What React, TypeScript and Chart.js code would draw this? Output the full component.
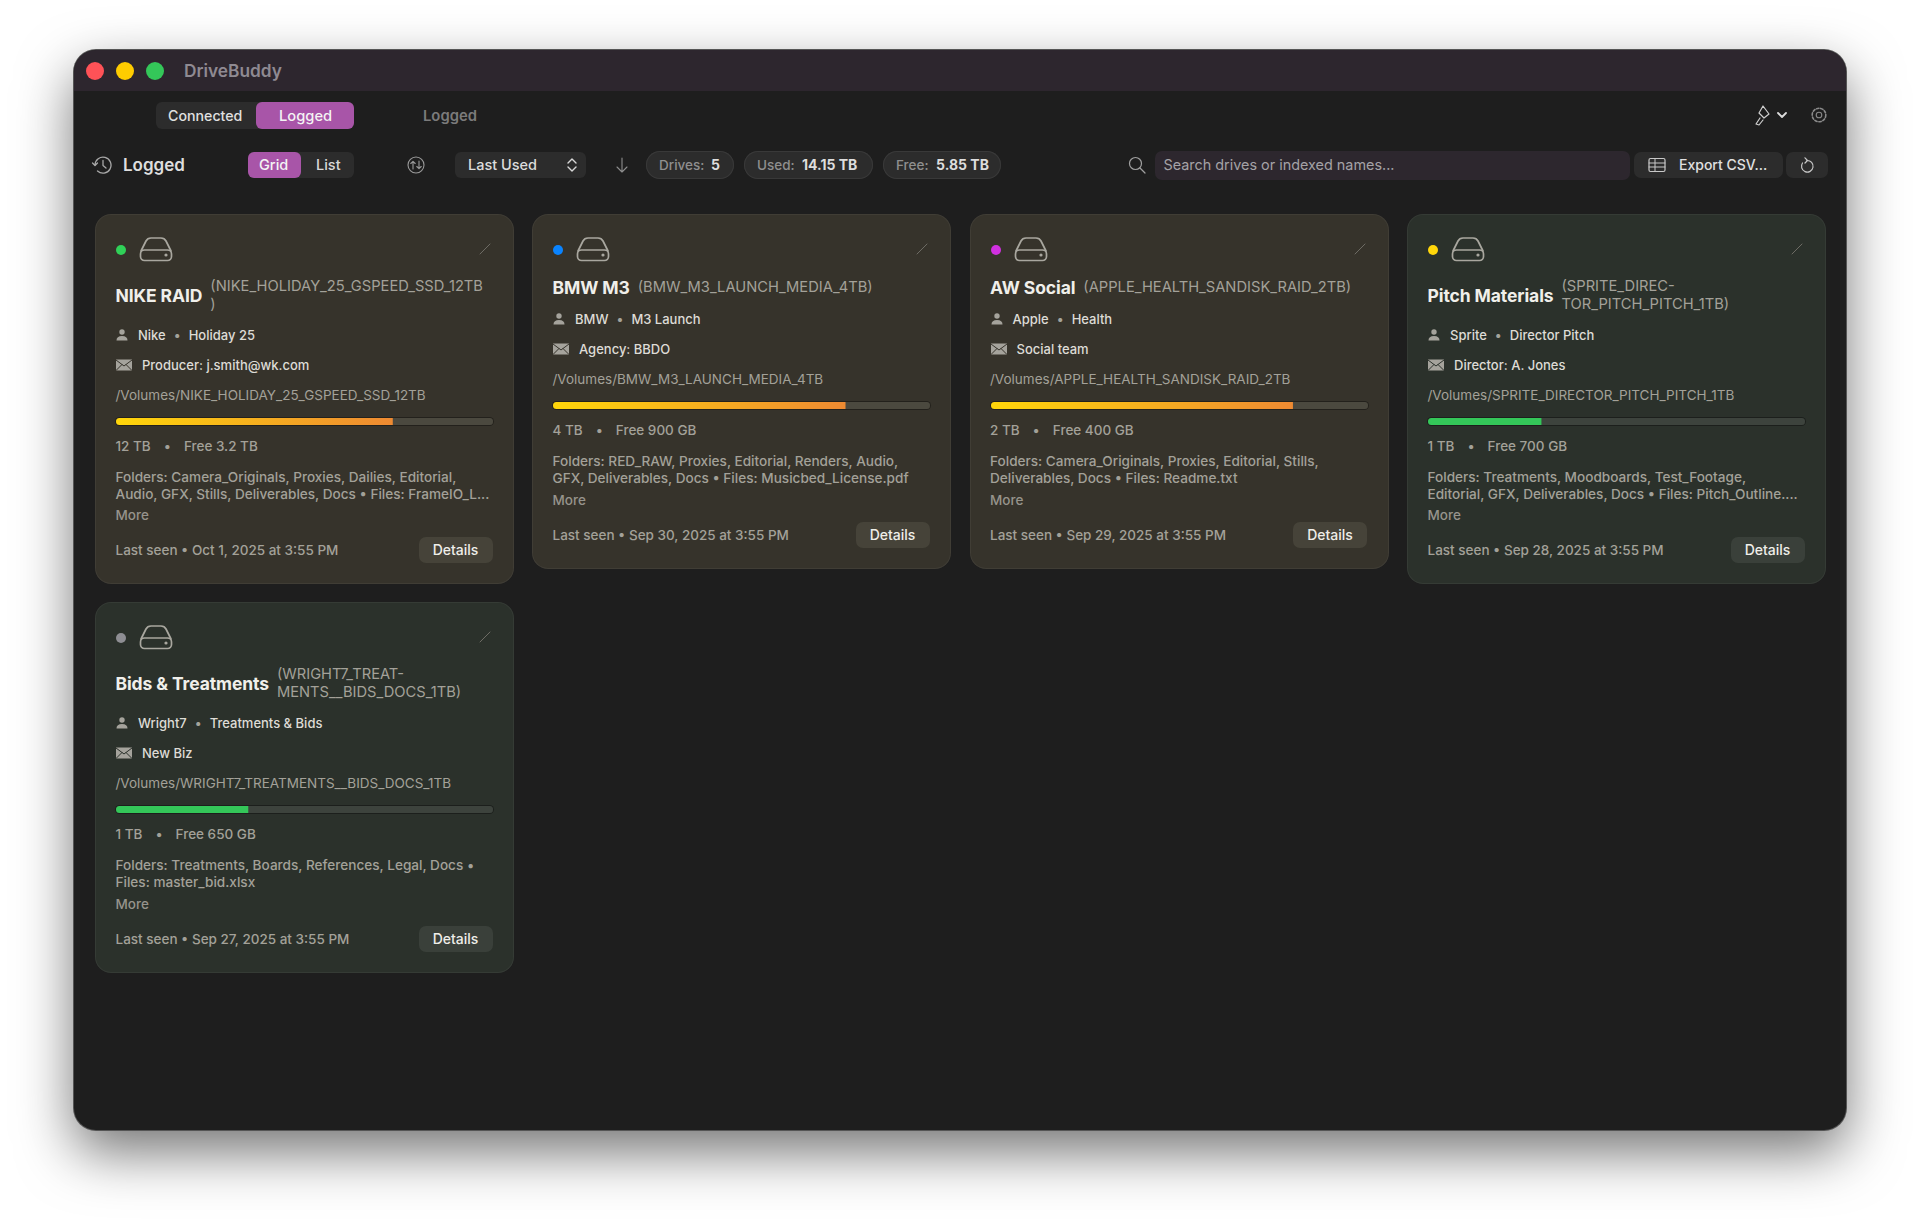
import React, { useEffect, useRef } from "react";
import { Chart, registerables } from "chart.js";

Chart.register(...registerables);

const driveNames = ["NIKE RAID", "BMW M3", "AW Social", "Pitch Materials", "Bids & Treatments"];
const volumeLabels = [
  ["(NIKE_HOLIDAY_25_GSPEED_SSD_12TB", ")"],
  ["(BMW_M3_LAUNCH_MEDIA_4TB)"],
  ["(APPLE_HEALTH_SANDISK_RAID_2TB)"],
  ["(SPRITE_DIREC-", "TOR_PITCH_PITCH_1TB)"],
  ["(WRIGHT7_TREAT-", "MENTS__BIDS_DOCS_1TB)"],
];
const clients = ["Nike", "BMW", "Apple", "Sprite", "Wright7"];
const projects = ["Holiday 25", "M3 Launch", "Health", "Director Pitch", "Treatments & Bids"];
const contacts = ["Producer: j.smith@wk.com", "Agency: BBDO", "Social team", "Director: A. Jones", "New Biz"];
const paths = [
  "/Volumes/NIKE_HOLIDAY_25_GSPEED_SSD_12TB",
  "/Volumes/BMW_M3_LAUNCH_MEDIA_4TB",
  "/Volumes/APPLE_HEALTH_SANDISK_RAID_2TB",
  "/Volumes/SPRITE_DIRECTOR_PITCH_PITCH_1TB",
  "/Volumes/WRIGHT7_TREATMENTS__BIDS_DOCS_1TB",
];
const capacityTB = [12, 4, 2, 1, 1];
const freeTB = [3.2, 0.9, 0.4, 0.7, 0.65];
const capacityLabels = ["12 TB", "4 TB", "2 TB", "1 TB", "1 TB"];
const freeLabels = ["Free 3.2 TB", "Free 900 GB", "Free 400 GB", "Free 700 GB", "Free 650 GB"];
const folderLines = [
  ["Folders: Camera_Originals, Proxies, Dailies, Editorial,", "Audio, GFX, Stills, Deliverables, Docs • Files: FrameIO_L..."],
  ["Folders: RED_RAW, Proxies, Editorial, Renders, Audio,", "GFX, Deliverables, Docs • Files: Musicbed_License.pdf"],
  ["Folders: Camera_Originals, Proxies, Editorial, Stills,", "Deliverables, Docs • Files: Readme.txt"],
  ["Folders: Treatments, Moodboards, Test_Footage,", "Editorial, GFX, Deliverables, Docs • Files: Pitch_Outline...."],
  ["Folders: Treatments, Boards, References, Legal, Docs •", "Files: master_bid.xlsx"],
];
const lastSeen = [
  "Last seen • Oct 1, 2025 at 3:55 PM",
  "Last seen • Sep 30, 2025 at 3:55 PM",
  "Last seen • Sep 29, 2025 at 3:55 PM",
  "Last seen • Sep 28, 2025 at 3:55 PM",
  "Last seen • Sep 27, 2025 at 3:55 PM",
];
const dotColors = ["#30d158", "#0a84ff", "#d030e0", "#ffd60a", "#8e8e93"];
const truncated = [true, false, false, true, false];
const greenCard = [false, false, false, true, true];
const cardLefts = [95, 532, 969.5, 1407, 95];
const cardTops = [214, 214, 214, 214, 602];
const dotColorsTraffic = ["#ff5257", "#ffcc00", "#34c759"];
const pillLabels = ["Drives:", "Used:", "Free:"];
const pillValues = ["5", "14.15 TB", "5.85 TB"];
const pillXs = [646, 744, 883];
const pillWs = [88, 129, 118];
const pillValueXs = [65, 58, 53];

const FONT = "Inter, 'Noto Sans', sans-serif";

function abs(left: number, top: number, extra: any = {}) {
  return { position: "absolute", left, top, ...extra } as React.CSSProperties;
}

function Txt({ x, cy, color, size = 13.5, weight = 500, children, spacing = 0 }: any) {
  return (
    <div style={{ position: "absolute", left: x, top: cy - 10, height: 20, lineHeight: "20px", fontSize: size, fontWeight: weight, color, whiteSpace: "nowrap", letterSpacing: spacing }}>
      {children}
    </div>
  );
}

function Box({ x, y, w, h, bg, r = 6, border, children }: any) {
  return (
    <div style={{ position: "absolute", left: x, top: y, width: w, height: h, background: bg, borderRadius: r, boxSizing: "border-box", border }}>{children}</div>
  );
}

function DriveBar({ index, width }: { index: number; width: number }) {
  const ref = useRef<HTMLCanvasElement>(null);
  useEffect(() => {
    const cap = capacityTB[index];
    const free = freeTB[index];
    const used = cap - free;
    const hot = used / cap > 0.5;
    const track = greenCard[index] ? "#3d433d" : "#4b493f";
    const chart = new Chart(ref.current!, {
      type: "bar",
      data: {
        labels: [driveNames[index]],
        datasets: [
          {
            label: "Used",
            data: [used],
            backgroundColor: (c: any) => {
              if (!hot) return "#34c759";
              const g = c.chart.ctx.createLinearGradient(0, 0, (used / cap) * width, 0);
              g.addColorStop(0, "#ffd60a");
              g.addColorStop(1, "#ee8a32");
              return g;
            },
            borderWidth: 0,
          },
          { label: "Free", data: [free], backgroundColor: track, borderWidth: 0 },
        ],
      },
      options: {
        indexAxis: "y",
        responsive: false,
        animation: false,
        layout: { padding: 0 },
        datasets: { bar: { barPercentage: 1, categoryPercentage: 1 } },
        plugins: { legend: { display: false }, tooltip: { enabled: false } },
        scales: {
          x: { display: false, stacked: true, min: 0, max: cap },
          y: { display: false, stacked: true },
        },
      },
    } as any);
    return () => chart.destroy();
  }, [index, width]);
  return <canvas ref={ref} width={width} height={7} style={{ display: "block", width, height: 7 }} />;
}

const stroke = (c: string, w = 1.4) => ({ fill: "none", stroke: c, strokeWidth: w, strokeLinecap: "round", strokeLinejoin: "round" } as any);

function DriveIcon() {
  return (
    <svg style={abs(44, 22)} width="34" height="26" viewBox="0 0 34 26">
      <path d="M2 15 L7 5 Q8.5 2 12 2 H22 Q25.500 2 27 5 L32 15" {...stroke("#a9a79f", 1.7)} />
      <rect x="1.500" y="14" width="31" height="10.500" rx="4" {...stroke("#a9a79f", 1.7)} />
      <circle cx="27" cy="19" r="1.600" fill="#a9a79f" />
    </svg>
  );
}

function PersonIcon({ y }: { y: number }) {
  return (
    <svg style={abs(21, y - 6)} width="12" height="12" viewBox="0 0 12 12">
      <circle cx="6" cy="3" r="2.700" fill="#a5a39c" />
      <path d="M0.500 11.500 Q0.500 7 6 7 Q11.500 7 11.500 11.500 Z" fill="#a5a39c" />
    </svg>
  );
}

function MailIcon({ y, bg }: { y: number; bg: string }) {
  return (
    <svg style={abs(21, y - 6)} width="16" height="12" viewBox="0 0 16 12">
      <rect x="0" y="0.500" width="16" height="11" fill="#a5a39c" />
      <path d="M0 1 L8 7 L16 1 M0 11.500 L6 5.500 M16 11.500 L10 5.500" {...stroke(bg, 1)} />
    </svg>
  );
}

function DriveCard({ i }: { i: number }) {
  const wrap = volumeLabels[i].length > 1 ? 16 : 0;
  const low = wrap + (truncated[i] ? -1 : 0);
  const height = 355 + low;
  const green = greenCard[i];
  const bg = green ? "#2b312b" : "#36332b";
  const left = 20.5;
  const barW = 377;
  return (
    <div style={{ position: "absolute", left: cardLefts[i], top: cardTops[i], width: 419, height, background: bg, borderRadius: 16, boxShadow: "inset 0 0 0 1px rgba(255,255,255,0.05)" }}>
      <div style={{ position: "absolute", left: 21, top: 31, width: 10, height: 10, borderRadius: 5, background: dotColors[i] }} />
      <DriveIcon />
      <svg style={abs(384, 29)} width="12" height="12" viewBox="0 0 12 12">
        <path d="M1 11 L11 1" {...stroke("#6f6d66", 1)} />
      </svg>
      <div style={{ position: "absolute", left, top: 63, height: wrap ? 36 : 20, display: "flex", alignItems: "center", gap: 8, whiteSpace: "nowrap" }}>
        <div style={{ fontSize: 17.500, fontWeight: 700, color: "#f0efea", letterSpacing: -0.1 }}>{driveNames[i]}</div>
        <div style={{ fontSize: 14.700, lineHeight: "18px", fontWeight: 400, color: "#a3a199" }}>
          {volumeLabels[i].map((l) => (
            <div key={l}>{l}</div>
          ))}
        </div>
      </div>
      <PersonIcon y={105 + wrap} />
      <div style={{ position: "absolute", left: 43, top: 95 + wrap, height: 20, lineHeight: "20px", display: "flex", gap: 8, fontSize: 13, fontWeight: 500, color: "#dedcd6", whiteSpace: "nowrap" }}>
        <span>{clients[i]}</span>
        <span style={{ color: "#a5a39c" }}>•</span>
        <span>{projects[i]}</span>
      </div>
      <MailIcon y={135 + wrap} bg={bg} />
      <Txt x={47} cy={135 + wrap} size={13} color="#dedcd6">{contacts[i]}</Txt>
      <Txt x={left} cy={165 + wrap} color="#a3a199" weight={400}>{paths[i]}</Txt>
      <div style={{ position: "absolute", left: 21, top: 187.5 + wrap, width: barW, height: 7, borderRadius: 4, overflow: "hidden", boxShadow: "0 0 0 1px rgba(0,0,0,0.35)" }}>
        <DriveBar index={i} width={barW} />
      </div>
      <div style={{ position: "absolute", left, top: 206 + wrap, height: 20, lineHeight: "20px", display: "flex", gap: 13, fontSize: 13.500, fontWeight: 500, color: "#a3a199", whiteSpace: "nowrap" }}>
        <span>{capacityLabels[i]}</span>
        <span>•</span>
        <span>{freeLabels[i]}</span>
      </div>
      <Txt x={left} cy={247 + wrap} size={13.600} color="#a3a199">{folderLines[i][0]}</Txt>
      <Txt x={left} cy={264 + wrap} size={13.600} color="#a3a199">{folderLines[i][1]}</Txt>
      <Txt x={left} cy={286 + low} color="#96948c">More</Txt>
      <Txt x={left} cy={321 + low} color="#a3a199">{lastSeen[i]}</Txt>
      <Box x={323.5} y={308 + low} w={74} h={26} bg={green ? "#3a403a" : "#464339"} r={7}>
        <div style={{ textAlign: "center", lineHeight: "26px", fontSize: 14, fontWeight: 500, color: "#efeee9" }}>Details</div>
      </Box>
    </div>
  );
}

export default function App() {
  useEffect(() => {
    document.body.style.margin = "0";
    document.body.style.background = "#fff";
    document.body.style.overflow = "hidden";
  }, []);
  return (
    <div style={{ position: "fixed", left: 0, top: 0, width: 1920, height: 1228, background: "#fff", overflow: "hidden", fontFamily: FONT }}>
      <div style={{ position: "absolute", left: 74, top: 50, width: 1772, height: 1080, borderRadius: 22, background: "#1e1e1e", boxShadow: "0 0 0 1px #555, 0 22px 55px rgba(0,0,0,0.55)" }} />
      <div style={{ position: "absolute", left: 74, top: 50, width: 1772, height: 41, borderRadius: "22px 22px 0 0", background: "#2d262e" }} />

      {dotColorsTraffic.map((c, i) => (
        <div key={c} style={{ position: "absolute", left: 86 + i * 30, top: 62, width: 18, height: 18, borderRadius: 9, background: c }} />
      ))}
      <Txt x={184} cy={71} size={17.300} weight={600} color="#8f8a92">DriveBuddy</Txt>

      <Box x={156} y={102} w={198} h={27} bg="#2c2c2c" />
      <Box x={256} y={102} w={98} h={27} bg="#a855a8" />
      <Txt x={168} cy={116} size={14.200} weight={500} color="#e0e0e0">Connected</Txt>
      <Txt x={279} cy={116} size={14.700} weight={500} color="#f4f4f4">Logged</Txt>
      <Txt x={423} cy={116} size={14.800} weight={600} color="#7b7b7b">Logged</Txt>

      <svg style={abs(1752, 103)} width="40" height="24" viewBox="0 0 40 24">
        <path d="M11 3 L17 11 L12 15 L7 10 Z M8 15 L4 21 L7 22 L11 17" {...stroke("#cfcfcf", 1.2)} />
        <path d="M26 10 L30 14 L34 10" {...stroke("#dcdcdc", 1.8)} />
      </svg>
      <svg style={abs(1810, 106)} width="18" height="18" viewBox="0 0 18 18">
        <circle cx="9" cy="9" r="2.800" {...stroke("#8a8a8a", 1.1)} />
        <circle cx="9" cy="9" r="6.800" {...stroke("#8a8a8a", 1.6)} strokeDasharray="2.400 1.800" />
      </svg>

      <svg style={abs(91, 155)} width="21" height="20" viewBox="0 0 21 20">
        <path d="M4 10 A8 8 0 1 1 6.500 16" {...stroke("#a8a8a8", 1.3)} />
        <path d="M1.500 8 L4 10.500 L6.500 8 M12 5.500 V10.500 L15 13" {...stroke("#a8a8a8", 1.3)} />
      </svg>
      <Txt x={123} cy={165} size={17} weight={600} color="#dedede">Logged</Txt>
      <Box x={248} y={152} w={106} h={26} bg="#2c2c2c" />
      <Box x={248} y={152} w={53} h={26} bg="#a855a8" />
      <Txt x={259} cy={165} size={14.500} color="#f4f4f4">Grid</Txt>
      <Txt x={316} cy={165} size={14.500} color="#d8d8d8">List</Txt>

      <svg style={abs(407, 156)} width="18" height="18" viewBox="0 0 18 18">
        <circle cx="9" cy="9" r="8" {...stroke("#9a9a9a", 1.1)} />
        <path d="M6 13 V5.500 M3.800 7.500 L6 5.300 L8.200 7.500 M12 5 V12.500 M9.800 10.500 L12 12.700 L14.200 10.500" {...stroke("#9a9a9a", 1.1)} />
      </svg>
      <Box x={455} y={152} w={131} h={26} bg="#2c2c2c" />
      <Txt x={468} cy={165} size={14.500} color="#dcdcdc">Last Used</Txt>
      <svg style={abs(567, 158)} width="10" height="14" viewBox="0 0 10 14">
        <path d="M1 5 L5 1 L9 5 M1 9 L5 13 L9 9" {...stroke("#d8d8d8", 1.4)} />
      </svg>
      <svg style={abs(616, 157)} width="12" height="16" viewBox="0 0 12 16">
        <path d="M6 1 V15 M1 10 L6 15 L11 10" {...stroke("#8e8e8e", 1.1)} />
      </svg>

      {pillLabels.map((label, i) => (
        <div key={label} style={{ position: "absolute", left: pillXs[i], top: 151, width: pillWs[i], height: 28, borderRadius: 14, background: "#2c2c2c", boxShadow: "inset 0 0 0 1px #393939" }}>
          <Txt x={13} cy={14} size={13.500} color="#8f8f8f">{label}</Txt>
          <Txt x={pillValueXs[i]} cy={14} size={14} weight={700} color="#dddddd">{pillValues[i]}</Txt>
        </div>
      ))}

      <svg style={abs(1128, 156)} width="18" height="18" viewBox="0 0 18 18">
        <circle cx="7.500" cy="7.500" r="6" {...stroke("#a0a0a0", 1.2)} />
        <path d="M12 12 L17 17" {...stroke("#a0a0a0", 1.2)} />
      </svg>
      <Box x={1155} y={151} w={475} h={29} bg="#2d272e" r={7} />
      <Txt x={1163.5} cy={165} size={14.400} weight={400} color="#a4a2a6">Search drives or indexed names...</Txt>
      <Box x={1634} y={152} w={149} h={26} bg="#2c2c2c" r={7} />
      <svg style={abs(1648, 157)} width="18" height="16" viewBox="0 0 18 16">
        <rect x="1" y="1.500" width="16" height="13" rx="1.500" {...stroke("#c8c8c8", 1.2)} />
        <path d="M1 6 H17 M1 10 H17 M7 1.500 V14.500" {...stroke("#c8c8c8", 1)} />
      </svg>
      <Txt x={1679} cy={165} size={14} color="#e0e0e0">Export CSV...</Txt>
      <Box x={1786} y={152} w={42} h={26} bg="#2c2c2c" r={7} />
      <svg style={abs(1799, 157)} width="16" height="17" viewBox="0 0 16 17">
        <path d="M8 3.500 A5.800 5.800 0 1 1 3.500 6" {...stroke("#c8c8c8", 1.2)} />
        <path d="M6 0.800 L8.500 3.500 L6 6" {...stroke("#c8c8c8", 1.2)} />
      </svg>

      {driveNames.map((_, i) => (
        <DriveCard key={i} i={i} />
      ))}
    </div>
  );
}
